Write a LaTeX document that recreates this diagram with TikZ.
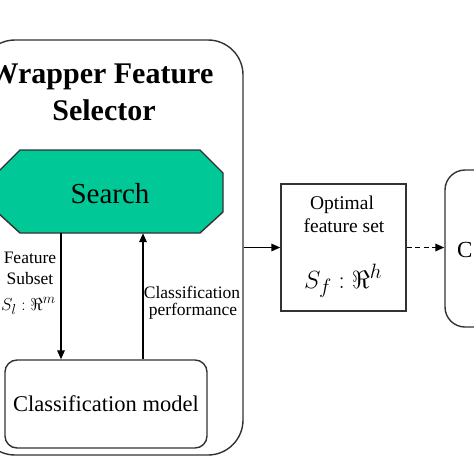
\documentclass[tikz,border=0pt]{standalone}
\usepackage{fontspec}
\setmainfont{Liberation Serif}
\usetikzlibrary{arrows.meta}
\definecolor{searchgreen}{RGB}{0,200,150}
\definecolor{edgegray}{RGB}{50,50,50}
\begin{document}
\begin{tikzpicture}[x=1pt,y=-1pt,
  boxline/.style={draw=edgegray,line width=1.4pt},
  conn/.style={line width=1.6pt,-{Triangle[length=9pt,width=7.5pt]}},
  lbl/.style={inner sep=0pt,font=\fontsize{17.5}{20}\selectfont},
  titlefont/.style={inner sep=0pt,font=\fontsize{30}{36}\selectfont\bfseries}]
\useasboundingbox (0,0) rectangle (474,474);
\clip (0,0) rectangle (474,474);
% outer wrapper box
\node[boxline,rounded corners=35pt,minimum width=263pt,minimum height=415pt,inner sep=0pt] (wrapper) at (-20+131.5,40+207.5) {};
\node[titlefont,anchor=base] (title1) at (101,83) {Wrapper Feature};
\node[titlefont,anchor=base] (title2) at (104,120) {Selector};
% search octagon
\draw[edgegray,line width=1.4pt,fill=searchgreen] (20,150) -- (200,150) -- (223,173) -- (223,212) -- (200,233) -- (20,233) -- (-3,212) -- (-3,173) -- cycle;
\node[minimum width=226pt,minimum height=83pt,inner sep=0pt] (search) at (110,191.5) {};
\node[inner sep=0pt,anchor=base,font=\fontsize{29}{32}\selectfont] (searchtxt) at (110,203) {Search};
% classification model
\node[boxline,rounded corners=12pt,minimum width=202pt,minimum height=88pt,inner sep=0pt,font=\fontsize{22.5}{26}\selectfont] (model) at (106,404) {Classification model};
% arrows between search and model
\coordinate (dx) at (61,0);
\coordinate (ux) at (143,0);
\draw[conn] (search.south -| dx) -- (model.north -| dx);
\draw[conn] (model.north -| ux) -- (search.south -| ux);
% labels
\node[lbl,anchor=base] (feat1) at (30,263) {Feature};
\node[lbl,anchor=base] (feat2) at (30,284) {Subset};
\node[inner sep=0pt,anchor=base east,font=\fontsize{19}{22}\selectfont] (feat3) at (56,310) {$S_l : \Re^m$};
\node[lbl,anchor=base] (perf1) at (192,298) {Classification};
\node[lbl,anchor=base] (perf2) at (193,315) {performance};
% optimal feature set
\node[boxline,minimum width=125pt,minimum height=127pt,inner sep=0pt] (optimal) at (343.5,247.5) {};
\node[inner sep=0pt,anchor=base,font=\fontsize{19.5}{22}\selectfont] (opt1) at (342,209) {Optimal};
\node[inner sep=0pt,anchor=base,font=\fontsize{19.5}{22}\selectfont] (opt2) at (344,232) {feature set};
\node[inner sep=0pt,anchor=base,font=\fontsize{30}{34}\selectfont] (opt3) at (343,288) {$S_f : \Re^h$};
\draw[conn] (wrapper.east |- optimal.west) -- (optimal.west);
% right box
\node[boxline,rounded corners=20pt,minimum width=80pt,minimum height=157pt,inner sep=0pt] (clf) at (485,248.5) {};
\node[inner sep=0pt,anchor=base west,font=\fontsize{23}{26}\selectfont] (clftxt) at (457,257) {C};
\draw[conn,dash pattern=on 5pt off 3.5pt] (optimal.east) -- (clf.west |- optimal.east);
\end{tikzpicture}
\end{document}
